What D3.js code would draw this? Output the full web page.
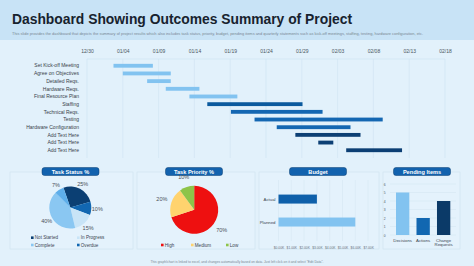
<!DOCTYPE html>
<html>
<head>
<meta charset="utf-8">
<script src="https://cdn.jsdelivr.net/npm/d3@7"></script>
<style>
  html, body { margin: 0; padding: 0; background: #e2f1fb; }
  svg { display: block; font-family: "Liberation Sans", Arial, sans-serif; }
</style>
</head>
<body>
<svg id="chart" width="474" height="266"></svg>
<script>
// ---- data ----
const tasks = [
  "Set Kick-off  Meeting", "Agree on Objectives", "Detailed Reqs.", "Hardware Reqs.",
  "Final Resource  Plan", "Staffing", "Technical Reqs.", "Testing",
  "Hardware Configuration", "Add  Text Here", "Add  Text Here", "Add  Text Here",
];
// start, in days after 12/30, and length in days
const taskStart = [3.7, 5.0, 8.4, 11.0, 14.3, 16.8, 20.1, 23.4, 26.5, 29.1, 32.3, 36.2];
const taskDays = [5.5, 6.7, 3.3, 4.7, 6.7, 13.3, 12.8, 17.9, 10.3, 9.1, 2.1, 7.8];
const taskGroup = [0, 0, 0, 0, 0, 1, 2, 2, 2, 3, 3, 3];
const tickDates = ["2019-12-30", "2020-01-04", "2020-01-09", "2020-01-14", "2020-01-19",
  "2020-01-24", "2020-01-29", "2020-02-03", "2020-02-08", "2020-02-13", "2020-02-18"];

const statusValues = [25, 10, 15, 40, 7];
const statusLegend = ["Not Started", "In Progress", "Complete", "Overdue"];

const priorityLabels = ["High", "Medium", "Low"];
const priorityValues = [70, 20, 10];

const budgetLabels = ["Actual", "Planned"];
const budgetValues = [3, 6];
const budgetTicks = ["$0.00K", "$1.00K", "$2.00K", "$3.00K", "$4.00K", "$5.00K", "$6.00K", "$7.00K"];

const pendingLabels = ["Decisions", "Actions", "Change Requests"];
const pendingValues = [5, 2, 4];

// ---- colours ----
const ganttColors = ["#82c3f0", "#0b5a9e", "#1467b2", "#0c3f74"];
const statusColors = ["#0b3f73", "#1267b1", "#c8e4f7", "#8ac7f2", "#5eaeea"];
const statusLegendColors = ["#0b3f73", "#c8e4f7", "#8ac7f2", "#1267b1"];
const priorityColors = ["#ee1010", "#ffd36e", "#8dc449"];
const pendingColors = ["#82c3f0", "#1267b1", "#0b3a68"];

const svg = d3.select("#chart");

// ---- header ----
svg.append("rect").attr("x", 0).attr("y", 0).attr("width", 474).attr("height", 40)
  .attr("fill", "#c8e3f6");
svg.append("text").attr("x", 12).attr("y", 24)
  .attr("font-size", 14).attr("font-weight", "bold").attr("fill", "#17222e")
  .attr("textLength", 340).attr("lengthAdjust", "spacingAndGlyphs")
  .text("Dashboard Showing Outcomes Summary of Project");
svg.append("text").attr("x", 12).attr("y", 35)
  .attr("font-size", 3.4).attr("fill", "#7a8894")
  .attr("textLength", 411).attr("lengthAdjust", "spacingAndGlyphs")
  .text("This slide provides the dashboard that depicts the summary of project results which also includes task status, priority, budget, pending items and quarterly statements such as kick-off meetings, staffing, testing, hardware configuration, etc.");

// ---- gantt ----
const base = new Date(2019, 11, 30);
const dayToDate = (d) => new Date(base.getTime() + d * 864e5);
const ticks = tickDates.map((s) => { const [y, m, d] = s.split("-").map(Number); return new Date(y, m - 1, d); });

const x = d3.scaleTime().domain([ticks[0], ticks[ticks.length - 1]]).range([87, 445]);
const y = d3.scaleBand().domain(d3.range(tasks.length)).range([60, 156]).padding(0.5);

const gantt = svg.append("g");

// vertical guide lines
gantt.selectAll(".vg").data(ticks).enter().append("line")
  .attr("x1", (d) => x(d)).attr("x2", (d) => x(d))
  .attr("y1", 59).attr("y2", 158)
  .attr("stroke", "#cfe3f1").attr("stroke-width", 0.6);
gantt.append("line").attr("x1", 87).attr("x2", 445).attr("y1", 59).attr("y2", 59)
  .attr("stroke", "#cfe3f1").attr("stroke-width", 0.6);

gantt.append("g").attr("transform", "translate(0,56)")
  .call(d3.axisTop(x).tickValues(ticks).tickFormat(d3.timeFormat("%m/%d")).tickSize(0))
  .call((g) => g.select(".domain").remove())
  .selectAll("text").attr("font-size", 5).attr("fill", "#4a5560").attr("font-family", "Liberation Sans");

gantt.selectAll(".tl").data(tasks).enter().append("text")
  .attr("x", 79).attr("y", (d, i) => y(i) + y.bandwidth() / 2 + 1.7)
  .attr("text-anchor", "end").attr("font-size", 5).attr("fill", "#39414a")
  .text((d) => d);

gantt.selectAll(".bar").data(tasks).enter().append("rect")
  .attr("x", (d, i) => x(dayToDate(taskStart[i])))
  .attr("y", (d, i) => y(i))
  .attr("width", (d, i) => x(dayToDate(taskStart[i] + taskDays[i])) - x(dayToDate(taskStart[i])))
  .attr("height", y.bandwidth())
  .attr("fill", (d, i) => ganttColors[taskGroup[i]]);

// ---- panels ----
const panels = [[10, 172, 123, 77], [137, 172, 118, 77], [259, 172, 120, 77], [383, 172, 77, 77]];
svg.selectAll(".panel").data(panels).enter().append("rect")
  .attr("x", (d) => d[0]).attr("y", (d) => d[1]).attr("width", (d) => d[2]).attr("height", (d) => d[3])
  .attr("fill", "#e4f2fc").attr("stroke", "#cde1ee").attr("stroke-width", 0.6);

function pill(cx, label) {
  svg.append("rect").attr("x", cx - 28.5).attr("y", 167.5).attr("width", 57).attr("height", 8)
    .attr("rx", 2.5).attr("fill", "#1262ae").attr("stroke", "#0b3f73").attr("stroke-width", 0.5);
  svg.append("text").attr("x", cx).attr("y", 173.6).attr("text-anchor", "middle")
    .attr("font-size", 5.6).attr("font-weight", "bold").attr("fill", "#ffffff").text(label);
}
pill(70.5, "Task Status %");
pill(194, "Task Priority %");
pill(318, "Budget");
pill(422, "Pending Items");

// ---- task status pie ----
const statusPie = d3.pie().sort(null).startAngle(-19 * Math.PI / 180).endAngle((360 - 19) * Math.PI / 180)(statusValues);
const sArc = d3.arc().innerRadius(0).outerRadius(21);
const sLab = d3.arc().innerRadius(27).outerRadius(27);
const sg = svg.append("g").attr("transform", "translate(70.3,207.5)");
sg.selectAll("path").data(statusPie).enter().append("path")
  .attr("d", sArc).attr("fill", (d, i) => statusColors[i]);
sg.selectAll("text").data(statusPie).enter().append("text")
  .attr("transform", (d) => `translate(${sLab.centroid(d)})`)
  .attr("dy", 2).attr("text-anchor", "middle").attr("font-size", 5.5).attr("fill", "#4a5058")
  .text((d) => d.data + "%");

svg.selectAll(".sl").data(statusLegend).enter().append("g")
  .attr("transform", (d, i) => `translate(${i % 2 ? 77 : 31},${i < 2 ? 237.7 : 245})`)
  .each(function (d, i) {
    const g = d3.select(this);
    g.append("rect").attr("x", 0).attr("y", -1.3).attr("width", 2.6).attr("height", 2.6).attr("fill", statusLegendColors[i]);
    g.append("text").attr("x", 3.8).attr("y", 1.7).attr("font-size", 4.6).attr("fill", "#3a4550").text(d);
  });

// ---- task priority pie ----
const prPie = d3.pie().sort(null)(priorityValues);
const pArc = d3.arc().innerRadius(0).outerRadius(24);
const pLab = d3.arc().innerRadius(34).outerRadius(34);
const pg = svg.append("g").attr("transform", "translate(194.2,209.8)");
pg.selectAll("path").data(prPie).enter().append("path")
  .attr("d", pArc).attr("fill", (d, i) => priorityColors[i]);
pg.selectAll("text").data(prPie).enter().append("text")
  .attr("transform", (d) => `translate(${pLab.centroid(d)})`)
  .attr("dy", 2).attr("text-anchor", "middle").attr("font-size", 5.5).attr("fill", "#4a5058")
  .text((d) => d.data + "%");

svg.selectAll(".pl").data(priorityLabels).enter().append("g")
  .attr("transform", (d, i) => `translate(${[161, 191, 226][i]},245)`)
  .each(function (d, i) {
    const g = d3.select(this);
    g.append("rect").attr("x", 0).attr("y", -1.3).attr("width", 2.6).attr("height", 2.6).attr("fill", priorityColors[i]);
    g.append("text").attr("x", 3.8).attr("y", 1.7).attr("font-size", 4.6).attr("fill", "#3a4550").text(d);
  });

// ---- budget ----
const bx = d3.scaleLinear().domain([0, budgetTicks.length - 1]).range([278.5, 368.1]);
const by = d3.scaleBand().domain(budgetLabels).range([180, 242]).padding(0.7);
const bg = svg.append("g");
bg.selectAll(".bgl").data(d3.range(budgetTicks.length)).enter().append("line")
  .attr("x1", (d) => bx(d)).attr("x2", (d) => bx(d)).attr("y1", 180).attr("y2", 241)
  .attr("stroke", "#d3e5f1").attr("stroke-width", 0.5);
bg.selectAll(".bb").data(budgetValues).enter().append("rect")
  .attr("x", bx(0)).attr("y", (d, i) => by(budgetLabels[i]) - 1.5)
  .attr("width", (d) => bx(d) - bx(0)).attr("height", 9)
  .attr("fill", (d, i) => (i === 0 ? "#0f60aa" : "#82c3f0"));
bg.selectAll(".bl").data(budgetLabels).enter().append("text")
  .attr("x", 275.5).attr("y", (d) => by(d) + 4.5).attr("text-anchor", "end")
  .attr("font-size", 4.3).attr("fill", "#3a4550").text((d) => d);
bg.append("g").attr("transform", "translate(0,244)")
  .call(d3.axisBottom(bx).tickValues(d3.range(budgetTicks.length)).tickFormat((d) => budgetTicks[d]).tickSize(0))
  .call((g) => g.select(".domain").remove())
  .selectAll("text").attr("font-size", 3.3).attr("fill", "#6a7580").attr("font-family", "Liberation Sans");

// ---- pending items ----
const px = d3.scaleBand().domain(pendingLabels).range([396, 450.3]).paddingInner(0.35).paddingOuter(0);
const py = d3.scaleLinear().domain([0, 6]).range([235, 184]);
const pend = svg.append("g");
pend.selectAll(".pgl").data(py.ticks(6)).enter().append("line")
  .attr("x1", 390).attr("x2", 456).attr("y1", (d) => py(d)).attr("y2", (d) => py(d))
  .attr("stroke", "#d3e5f1").attr("stroke-width", 0.5);
pend.append("g").attr("transform", "translate(388.5,0)")
  .call(d3.axisLeft(py).ticks(6).tickSize(0))
  .call((g) => g.select(".domain").remove())
  .selectAll("text").attr("font-size", 3.3).attr("fill", "#4a5560").attr("font-family", "Liberation Sans");
pend.selectAll(".pb").data(pendingValues).enter().append("rect")
  .attr("x", (d, i) => px(pendingLabels[i])).attr("y", (d) => py(d))
  .attr("width", px.bandwidth()).attr("height", (d) => py(0) - py(d))
  .attr("fill", (d, i) => pendingColors[i]);
pend.selectAll(".pxl").data(pendingLabels).enter().append("text")
  .attr("x", (d) => px(d) + px.bandwidth() / 2).attr("y", 241.5)
  .attr("text-anchor", "middle").attr("font-size", 4.3).attr("fill", "#3a4550")
  .each(function (d) {
    const words = d.split(" ");
    d3.select(this).selectAll("tspan").data(words).enter().append("tspan")
      .attr("x", px(d) + px.bandwidth() / 2).attr("dy", (w, j) => (j ? 4.3 : 0)).text((w) => w);
  });

// ---- footer ----
svg.append("text").attr("x", 237).attr("y", 263).attr("text-anchor", "middle")
  .attr("font-size", 3.3).attr("fill", "#7a8894")
  .text("This graph/chart is linked to excel, and changes automatically based on data. Just left click on it and select \"Edit Data\".");
</script>
</body>
</html>
